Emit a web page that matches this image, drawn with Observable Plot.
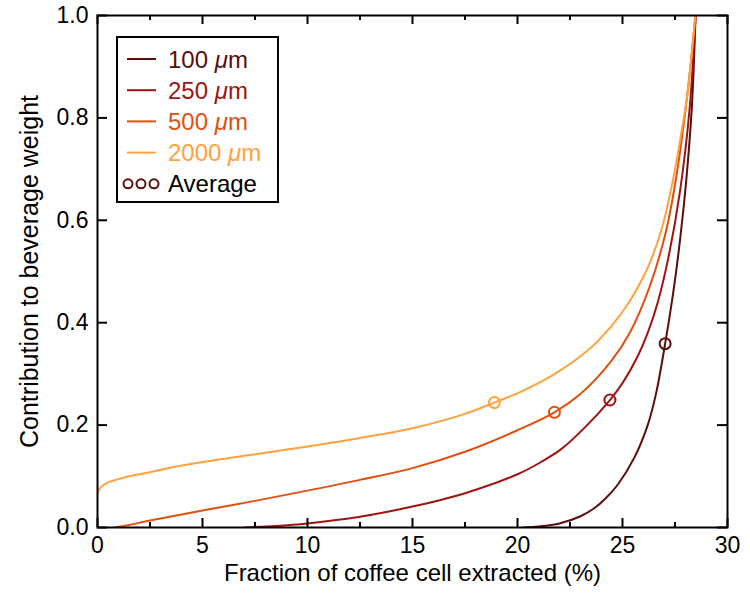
<!DOCTYPE html>
<html>
<head>
<meta charset="utf-8">
<script src="https://cdn.jsdelivr.net/npm/d3@7"></script>
<script src="https://cdn.jsdelivr.net/npm/@observablehq/plot@0.6"></script>
<style>
  body { margin: 0; background: white; }
  #wrap { position: relative; width: 750px; height: 600px; font-family: "Liberation Sans", Arial, Helvetica, sans-serif; }
  #legend { position: absolute; left: 116px; top: 36px; }
</style>
</head>
<body>
<div id="wrap"></div>
<script>
// ---- data ----
const sizes = ["100", "250", "500", "2000"];

const x100 = [20.3, 21, 22, 23, 23.67, 24.2, 24.78, 25.57, 26.2, 26.6, 27.03, 27.42, 27.75, 28.04, 28.3, 28.48];
const y100 = [0, 0.002, 0.008, 0.022, 0.038, 0.057, 0.084, 0.137, 0.2, 0.262, 0.359, 0.46, 0.565, 0.68, 0.82, 1.0];

const x250 = [7, 8.5, 10, 12.5, 15, 17.5, 20, 21, 22.08, 23.2, 24.4, 25.0, 25.73, 26.2, 26.68, 27.2, 27.75, 28.2, 28.48];
const y250 = [0, 0.003, 0.008, 0.021, 0.041, 0.067, 0.104, 0.125, 0.153, 0.195, 0.249, 0.282, 0.335, 0.38, 0.44, 0.53, 0.66, 0.82, 1.0];

const x500 = [0.8, 1.5, 2.5, 5, 7.5, 10, 12.5, 15, 17.5, 20, 21.76, 23.03, 24.46, 25.34, 26.29, 27.08, 27.58, 28.1, 28.47];
const y500 = [0, 0.005, 0.0135, 0.033, 0.052, 0.072, 0.093, 0.116, 0.148, 0.19, 0.225, 0.262, 0.325, 0.38, 0.47, 0.58, 0.69, 0.85, 1.0];

const x2000 = [0, 0.1, 0.25, 0.5, 0.86, 1.5, 2.5, 3.75, 5, 7.5, 10, 12.5, 15, 17.5, 18.9, 20.1, 21.7, 23.35, 24.46, 25.2, 25.7, 26.3, 26.9, 27.4, 27.8, 28.1, 28.47];
const y2000 = [0.066, 0.076, 0.082, 0.088, 0.093, 0.1, 0.108, 0.119, 0.128, 0.143, 0.158, 0.175, 0.194, 0.222, 0.244, 0.264, 0.298, 0.346, 0.393, 0.433, 0.467, 0.517, 0.588, 0.678, 0.77, 0.85, 1.0];

const avgX = [27.03, 24.4, 21.76, 18.9];
const avgY = [0.359, 0.249, 0.225, 0.244];

const xMajor = [0, 5, 10, 15, 20, 25, 30];
const xMinor = [2.5, 7.5, 12.5, 17.5, 22.5, 27.5];
const yMajor = [0, 0.2, 0.4, 0.6, 0.8, 1.0];

const xLabel = "Fraction of coffee cell extracted (%)";
const yLabel = "Contribution to beverage weight";
const avgLabel = "Average";

// ---- styles ----
const colors = ["#5c0d0d", "#a01313", "#e0500f", "#ffa23e"];
const font = "'Liberation Sans', Arial, Helvetica, sans-serif";

// ---- build tables ----
const seriesX = [x100, x250, x500, x2000];
const seriesY = [y100, y250, y500, y2000];
const rows = [];
sizes.forEach((s, i) => seriesX[i].forEach((x, j) => rows.push({size: s, x, y: seriesY[i][j]})));
const avg = sizes.map((s, i) => ({size: s, x: avgX[i], y: avgY[i]}));

const W = 750, H = 600, mL = 97, mR = 23, mT = 15, mB = 73;
const innerH = H - mT - mB, innerW = W - mL - mR;

const chart = Plot.plot({
  width: W, height: H,
  marginLeft: mL, marginRight: mR, marginTop: mT, marginBottom: mB,
  x: {domain: [0, 30]},
  y: {domain: [0, 1]},
  color: {domain: sizes, range: colors},
  style: {fontFamily: font, background: "white", color: "black"},
  marks: [
    Plot.line(rows, {x: "x", y: "y", z: "size", stroke: "size", strokeWidth: 2, curve: "catmull-rom", clip: true}),
    Plot.dot(avg, {x: "x", y: "y", stroke: "size", r: 5.5, strokeWidth: 2, fill: "none"}),
    Plot.tickX(xMajor, {x: d => d, insetTop: innerH - 9, stroke: "black", strokeWidth: 2}),
    Plot.tickX(xMinor, {x: d => d, insetTop: innerH - 5, stroke: "black", strokeWidth: 2}),
    Plot.tickX(xMajor, {x: d => d, insetBottom: innerH - 9, stroke: "black", strokeWidth: 2}),
    Plot.tickX(xMinor, {x: d => d, insetBottom: innerH - 5, stroke: "black", strokeWidth: 2}),
    Plot.tickY(yMajor, {y: d => d, insetRight: innerW - 10, stroke: "black", strokeWidth: 2}),
    Plot.tickY(yMajor, {y: d => d, insetLeft: innerW - 10, stroke: "black", strokeWidth: 2}),
    Plot.frame({stroke: "black", strokeWidth: 2}),
    Plot.axisX({ticks: xMajor, tickSize: 0, tickPadding: 9, tickFormat: d => String(d), fontSize: 23, label: null}),
    Plot.axisX({ticks: [], tickSize: 0, fontSize: 24, dx: -7,
      label: xLabel, labelAnchor: "center", labelArrow: "none", labelOffset: 53}),
    Plot.axisY({ticks: yMajor, tickSize: 0, tickPadding: 9, tickFormat: d3.format(".1f"), fontSize: 23, label: null}),
    Plot.axisY({ticks: [], tickSize: 0, fontSize: 25,
      label: yLabel, labelAnchor: "center", labelArrow: "none", labelOffset: 77})
  ]
});
document.getElementById("wrap").appendChild(chart);

// ---- legend ----
const lw = 163, lh = 167, rowH = 31.2, row0 = 23;
const leg = d3.create("svg").attr("id", "legend")
  .attr("width", lw).attr("height", lh)
  .style("font-family", font).style("font-size", "24px");
leg.append("rect").attr("x", 1).attr("y", 1).attr("width", lw - 2).attr("height", lh - 2)
  .attr("fill", "white").attr("stroke", "black").attr("stroke-width", 2);
sizes.forEach((s, i) => {
  const cy = row0 + i * rowH;
  leg.append("line").attr("x1", 11).attr("x2", 40).attr("y1", cy).attr("y2", cy)
    .attr("stroke", colors[i]).attr("stroke-width", 2);
  const t = leg.append("text").attr("x", 52).attr("y", cy).attr("dy", "0.36em").attr("fill", colors[i]);
  t.append("tspan").text(s + " ");
  t.append("tspan").attr("font-style", "italic").text("μ");
  t.append("tspan").text("m");
});
const cyA = row0 + 4 * rowH;
[12, 25, 38].forEach(cx => leg.append("circle").attr("cx", cx).attr("cy", cyA).attr("r", 4.5)
  .attr("fill", "none").attr("stroke", colors[0]).attr("stroke-width", 2));
leg.append("text").attr("x", 52).attr("y", cyA).attr("dy", "0.36em").attr("fill", "black").text(avgLabel);
document.getElementById("wrap").appendChild(leg.node());
</script>
</body>
</html>
